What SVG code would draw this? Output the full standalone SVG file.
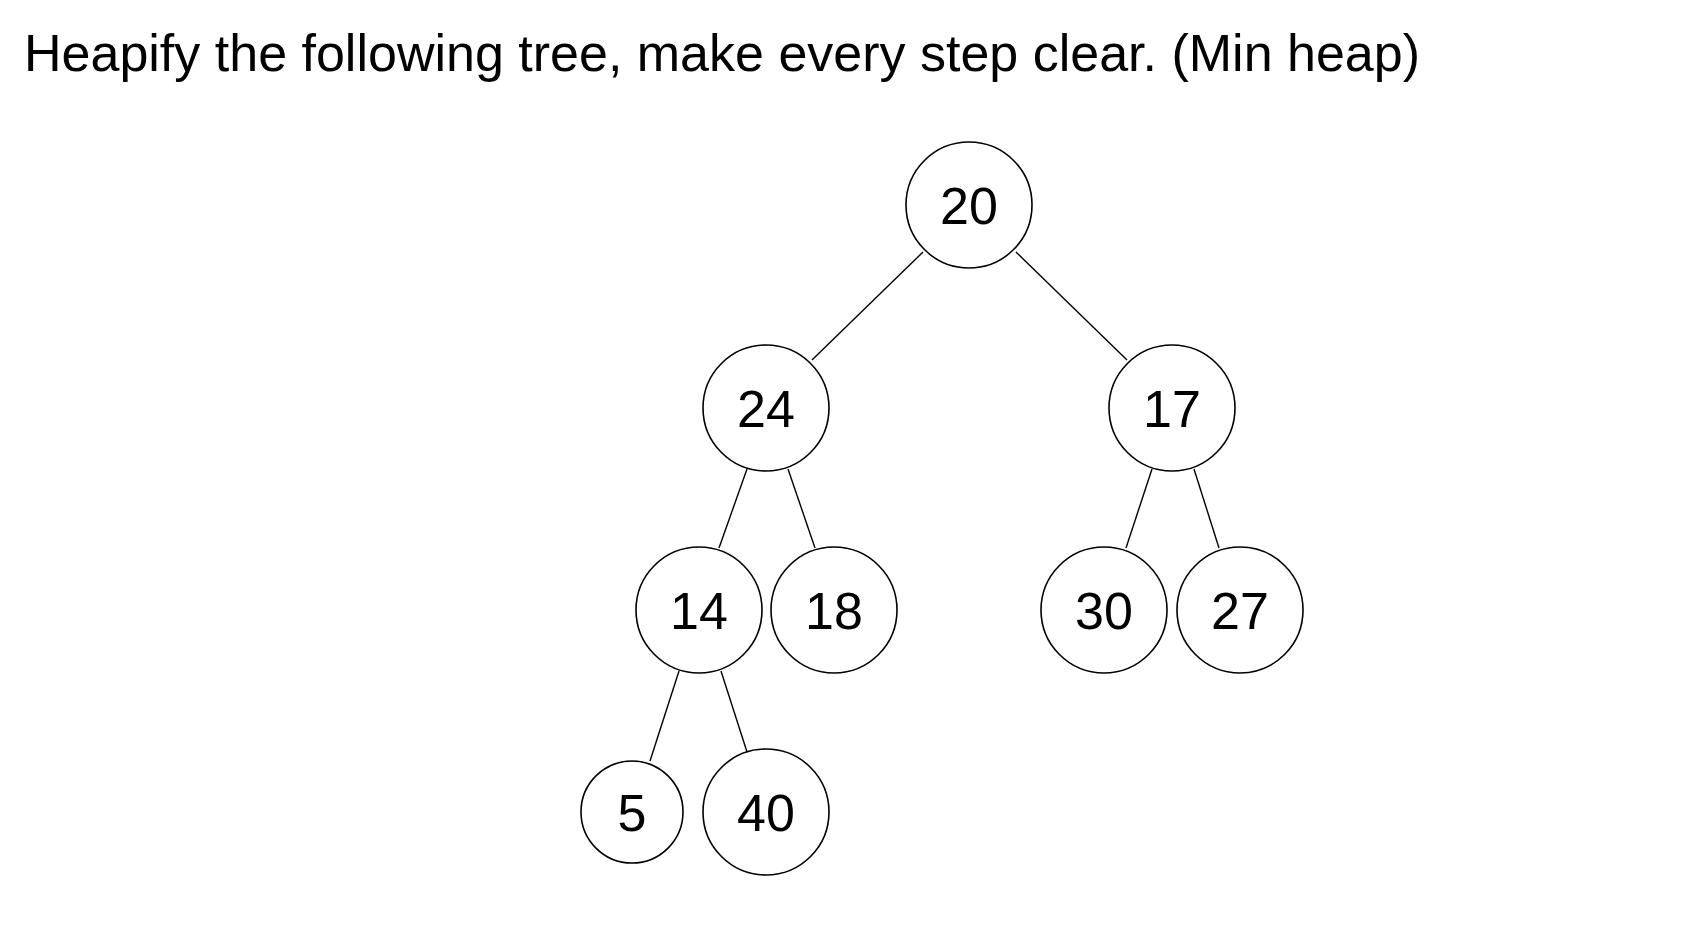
<svg xmlns="http://www.w3.org/2000/svg" width="1708" height="930" viewBox="0 0 1708 930">
<style>
.n{fill:#fff;stroke:#000;stroke-width:1.6}
.t{font-family:"Liberation Sans",Arial,sans-serif;font-size:52px;text-anchor:middle;fill:#000}
.e{stroke:#000;stroke-width:1.4}
</style>
<rect width="1708" height="930" fill="#fff"/>
<text x="24" y="71" font-family="Liberation Sans,Arial,sans-serif" font-size="52" fill="#000">Heapify the following tree, make every step clear. (Min heap)</text>
<g id="edges">
<line class="e" x1="923" y1="252" x2="812" y2="360"/>
<line class="e" x1="1016" y1="252" x2="1127" y2="360"/>
<line class="e" x1="747" y1="469" x2="719" y2="548"/>
<line class="e" x1="788" y1="469" x2="815" y2="548"/>
<line class="e" x1="1152" y1="469" x2="1126" y2="548"/>
<line class="e" x1="1194" y1="469" x2="1219" y2="548"/>
<line class="e" x1="679" y1="671" x2="650" y2="761"/>
<line class="e" x1="721" y1="671" x2="747" y2="752"/>
</g>
<g id="n20"><circle class="n" cx="969" cy="205" r="63"/><text class="t" x="969" y="224">20</text></g>
<g id="n24"><circle class="n" cx="766" cy="408" r="63"/><text class="t" x="766" y="427">24</text></g>
<g id="n17"><circle class="n" cx="1172" cy="408" r="63"/><text class="t" x="1172" y="427">17</text></g>
<g id="n14"><circle class="n" cx="699" cy="610" r="63"/><text class="t" x="699" y="629">14</text></g>
<g id="n18"><circle class="n" cx="834" cy="610" r="63"/><text class="t" x="834" y="629">18</text></g>
<g id="n30"><circle class="n" cx="1104" cy="610" r="63"/><text class="t" x="1104" y="629">30</text></g>
<g id="n27"><circle class="n" cx="1240" cy="610" r="63"/><text class="t" x="1240" y="629">27</text></g>
<g id="n5"><circle class="n" cx="632" cy="812" r="51"/><text class="t" x="632" y="831">5</text></g>
<g id="n40"><circle class="n" cx="766" cy="812" r="63"/><text class="t" x="766" y="831">40</text></g>
</svg>
